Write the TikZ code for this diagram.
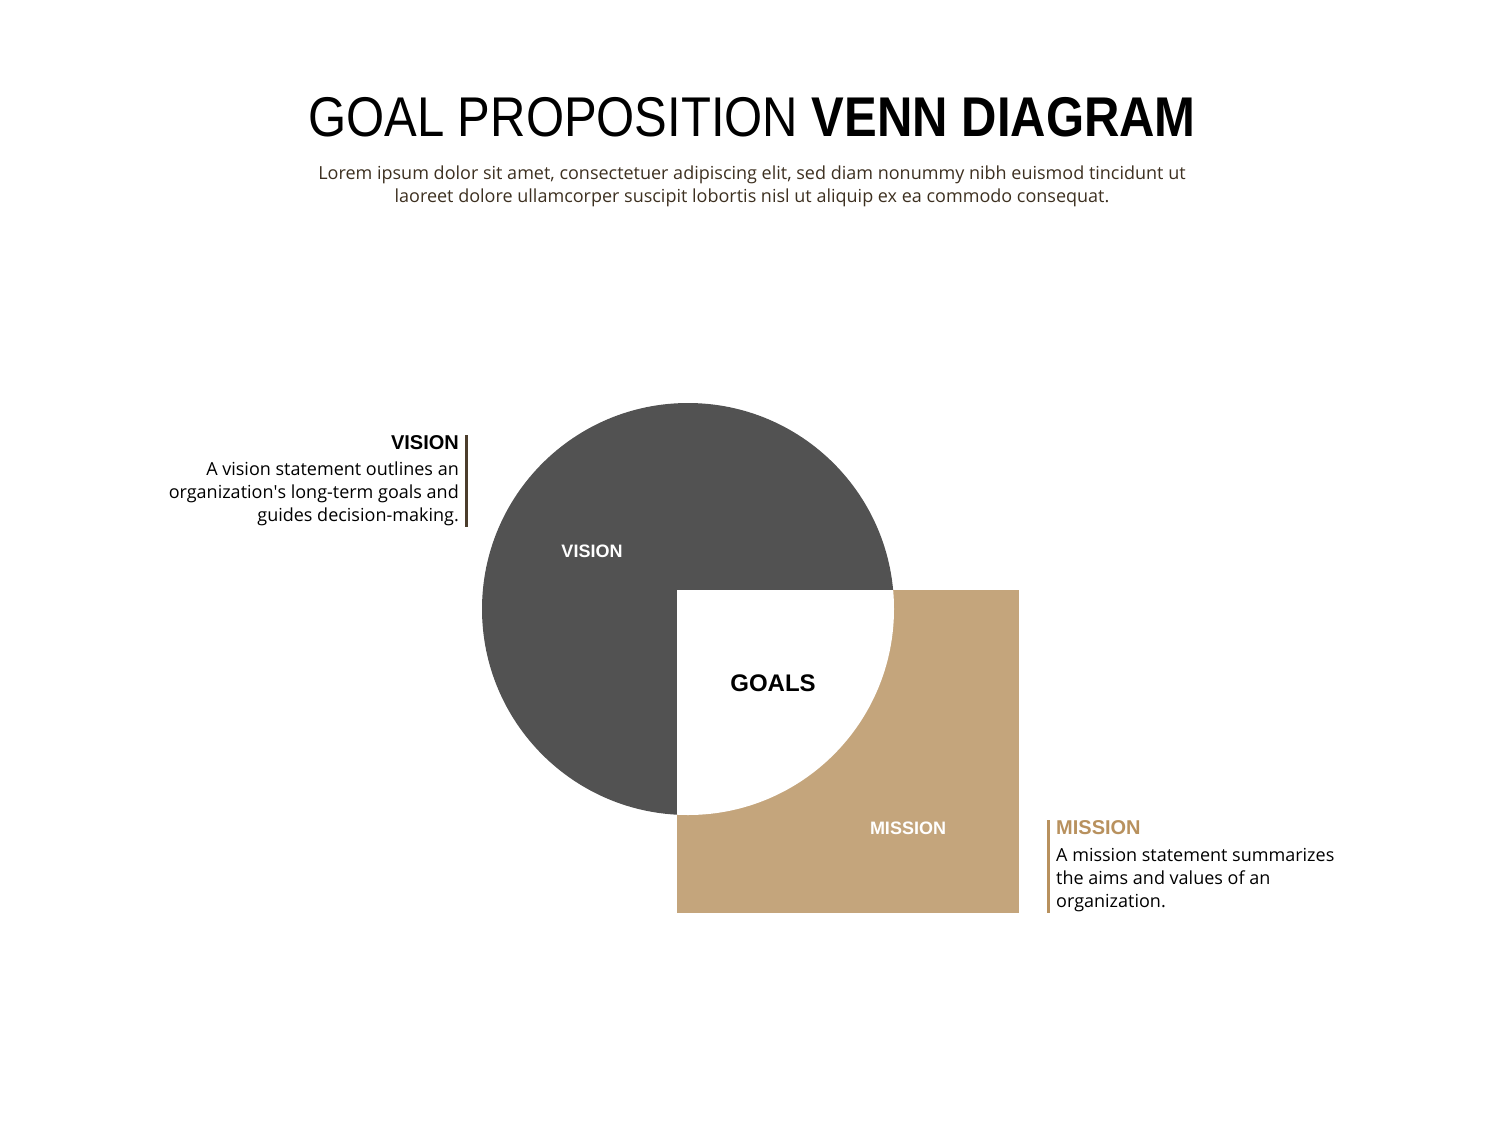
\documentclass[tikz,border=0pt]{standalone}
\usepackage{fontspec}
\setmainfont{Open Sans}
\newfontfamily\titlefont{Liberation Sans}
\newfontfamily\headfont{Liberation Sans}
\definecolor{darkgray}{HTML}{525252}
\definecolor{tan}{HTML}{C4A57C}
\definecolor{tandark}{HTML}{B8915E}
\definecolor{barbrown}{HTML}{4B3D2C}
\definecolor{subtext}{HTML}{3D3020}
\begin{document}
\begin{tikzpicture}[x=1pt,y=-1pt,
  bodytext/.style={font=\fontsize{18}{23}\selectfont, inner sep=0pt, text=black},
  headlbl/.style={font=\headfont\bfseries\fontsize{20}{24}\selectfont, inner sep=0pt},
  inlbl/.style={font=\headfont\bfseries\fontsize{18}{22}\selectfont, inner sep=0pt, text=white},
  bar/.style={line width=3pt}]
\useasboundingbox (0,0) rectangle (1500,1125);
% title
\node[inner sep=0pt, font=\titlefont\fontsize{56}{60}\selectfont] (title) at (752,117) {\scalebox{0.875}[1]{GOAL PROPOSITION \textbf{VENN DIAGRAM}}};
\node[inner sep=0pt, align=center, text=subtext, font=\fontsize{18}{23}\selectfont] (sub) at (752,186) {Lorem ipsum dolor sit amet, consectetuer adipiscing elit, sed diam nonummy nibh euismod tincidunt ut\\laoreet dolore ullamcorper suscipit lobortis nisl ut aliquip ex ea commodo consequat.};
% shapes
\fill[darkgray] (688,609) circle[radius=206];
\fill[tan] (677,590) rectangle (1019,913);
\begin{scope}
  \clip (677,590) rectangle (1019,913);
  \fill[white] (688,609) circle[radius=206];
\end{scope}
% inner labels
\node[inlbl] (vin) at (592,551) {VISION};
\node[inlbl] (min) at (908,828) {MISSION};
\node[inlbl, text=black, font=\headfont\bfseries\fontsize{24}{28}\selectfont] (goals) at (773,683) {GOALS};
% vision side
\node[headlbl, anchor=east] (vh) at (459,443) {VISION};
\node[bodytext, anchor=north east, align=right] (vb) at (459,462) {A vision statement outlines an\\organization\textquotesingle s long-term goals and\\guides decision-making.};
\coordinate (vt) at (466,435);
\coordinate (vbt) at (466,527);
\draw[bar, barbrown] (vt) -- (vbt);
% mission side
\node[headlbl, anchor=west, text=tandark] (mh) at (1056,828) {MISSION};
\node[bodytext, anchor=north west, align=left] (mb) at (1056,848) {A mission statement summarizes\\the aims and values of an\\organization.};
\coordinate (mt) at (1048,820);
\coordinate (mbt) at (1048,913);
\draw[bar, tandark] (mt) -- (mbt);
\end{tikzpicture}
\end{document}
